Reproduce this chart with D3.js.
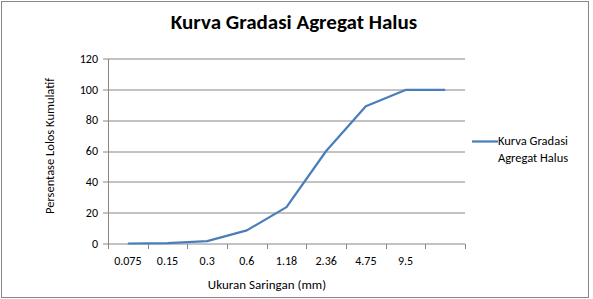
<!DOCTYPE html>
<html>
<head>
<meta charset="utf-8">
<script src="https://cdnjs.cloudflare.com/ajax/libs/d3/7.8.5/d3.min.js"></script>
<style>
  body { margin: 0; background: #fff; }
  svg { display: block; font-family: Carlito, Lato, "Open Sans", sans-serif; }
</style>
</head>
<body>
<div id="chart"></div>
<script>
// sieve sizes (last category has no label in the original)
var categories = ['0.075', '0.15', '0.3', '0.6', '1.18', '2.36', '4.75', '9.5', ''];
var lolosValues = [0, 0.3, 1.5, 8.5, 23.6, 60, 89, 99.6, 99.6];
var yTicks = [0, 20, 40, 60, 80, 100, 120];
var seriesName = ['Kurva Gradasi', 'Agregat Halus'];

var W = 593, H = 299;
var margin = {top: 58.5, right: 128, bottom: 55.5, left: 108};

var svg = d3.select('#chart').append('svg')
    .attr('width', W)
    .attr('height', H);

svg.append('rect')
    .attr('x', 1.5).attr('y', 1.5)
    .attr('width', 587).attr('height', 296)
    .attr('fill', '#fff')
    .attr('stroke', '#868686')
    .attr('stroke-width', 1);

var height = H - margin.top - margin.bottom;

var x = d3.scaleBand()
    .domain(categories.map((d, i) => i))
    .range([0, 357])
    .padding(0);

var y = d3.scaleLinear()
    .domain([0, 120])
    .range([height, 0]);

var g = svg.append('g')
    .attr('transform', 'translate(' + margin.left + ',' + margin.top + ')');

// gridlines
g.selectAll('.grid')
    .data(yTicks)
  .enter().append('line')
    .attr('class', 'grid')
    .attr('x1', -5)
    .attr('x2', 357)
    .attr('y1', d => Math.round(y(d)) + 0.5)
    .attr('y2', d => Math.round(y(d)) + 0.5)
    .attr('stroke', '#868686')
    .attr('stroke-width', 1);

// y axis line
g.append('line')
    .attr('x1', 0.5).attr('x2', 0.5)
    .attr('y1', Math.round(y(120)) + 0.5)
    .attr('y2', Math.round(y(0)) + 0.5)
    .attr('stroke', '#868686');

// y tick labels
g.selectAll('.ylab')
    .data(yTicks)
  .enter().append('text')
    .attr('class', 'ylab')
    .attr('x', -10)
    .attr('y', d => y(d))
    .attr('dy', '0.35em')
    .attr('text-anchor', 'end')
    .style('font-size', '12px')
    .text(d => d);

// x tick marks between categories
var bounds = categories.map((d, i) => x(i)).concat([357]);
g.selectAll('.xtick')
    .data(bounds)
  .enter().append('line')
    .attr('class', 'xtick')
    .attr('x1', d => Math.round(d) + 0.5)
    .attr('x2', d => Math.round(d) + 0.5)
    .attr('y1', Math.round(y(0)) + 0.5)
    .attr('y2', Math.round(y(0)) + 5.5)
    .attr('stroke', '#868686');

g.selectAll('.xlab')
    .data(categories)
  .enter().append('text')
    .attr('class', 'xlab')
    .attr('x', (d, i) => x(i) + x.bandwidth() / 2)
    .attr('y', height + 17)
    .attr('dy', '0.35em')
    .attr('text-anchor', 'middle')
    .style('font-size', '12px')
    .text(d => d);

// the curve
var line = d3.line()
    .x((d, i) => x(i) + x.bandwidth() / 2)
    .y(d => y(d));

g.append('path')
    .datum(lolosValues)
    .attr('fill', 'none')
    .attr('stroke', '#4a7ebb')
    .attr('stroke-width', 2.25)
    .attr('stroke-linejoin', 'round')
    .attr('d', line);

// titles
svg.append('text')
    .attr('x', 294)
    .attr('y', 29)
    .attr('text-anchor', 'middle')
    .style('font-size', '21px')
    .style('font-weight', 'bold')
    .text('Kurva Gradasi Agregat Halus');

svg.append('text')
    .attr('x', 267)
    .attr('y', 289)
    .attr('text-anchor', 'middle')
    .style('font-size', '13px')
    .text('Ukuran Saringan (mm)');

svg.append('text')
    .attr('transform', 'translate(54,146) rotate(-90)')
    .attr('text-anchor', 'middle')
    .style('font-size', '12.5px')
    .text('Persentase Lolos Kumulatif');

// legend
var legend = svg.append('g')
    .attr('transform', 'translate(472,141)');

legend.append('line')
    .attr('x1', 0).attr('x2', 26)
    .attr('y1', 0.5).attr('y2', 0.5)
    .attr('stroke', '#4a7ebb')
    .attr('stroke-width', 2.25);

legend.selectAll('text')
    .data(seriesName)
  .enter().append('text')
    .attr('x', 26)
    .attr('y', (d, i) => i * 17)
    .attr('dy', '0.35em')
    .style('font-size', '12.5px')
    .text(d => d);
</script>
</body>
</html>
